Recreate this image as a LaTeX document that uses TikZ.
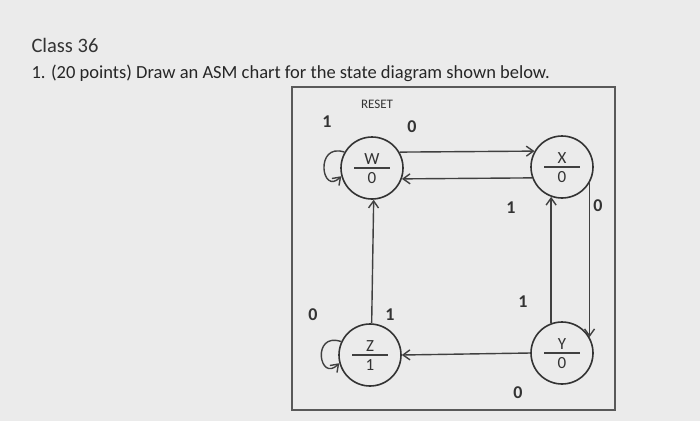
\documentclass[tikz,border=0pt]{standalone}
\usepackage{fontspec}
\setmainfont{Carlito}
\usetikzlibrary{arrows.meta}
\begin{document}
\begin{tikzpicture}[x=1pt,y=-1pt,
  st/.style={circle,draw=black!80,line width=1.6pt,minimum size=62pt,inner sep=0pt},
  ar/.style={draw=black!75,line width=1.4pt,-{Straight Barb[length=7pt,width=10pt]}},
  lb/.style={font=\fontsize{18}{18}\selectfont\bfseries,text=black!80}]
\fill[black!8] (0,0) rectangle (700,421);
\useasboundingbox (0,0) rectangle (700,421);
\node[anchor=west,font=\fontsize{20.5}{21}\selectfont,text=black!80] (t1) at (28,45) {Class 36};
\node[anchor=west,font=\fontsize{18.5}{19}\selectfont,text=black!85] (t2) at (28,73) {1. (20 points) Draw an ASM chart for the state diagram shown below.};
\draw[black!65,line width=1.2pt] (292,87) rectangle (615,410);
\node[st] (W) at (372,168) {};
\node[st] (X) at (562,167) {};
\node[st] (Y) at (562,353) {};
\node[st] (Z) at (370,355) {};
\foreach \n/\t/\b in {W/W/0,X/X/0,Y/Y/0,Z/Z/1}{
  \node[font=\fontsize{17}{17}\selectfont,text=black!80] (\n t) at ([yshift=9pt]\n) {\t};
  \node[font=\fontsize{17}{17}\selectfont,text=black!80] (\n b) at ([yshift=-10pt]\n) {\b};
  \draw[black!75,line width=1.3pt] ([xshift=-18pt]\n.center) -- ([xshift=18pt]\n.center);
}
\draw[ar] (W.30) -- (X.150);
\draw[ar] (X.-160) -- (W.-20);
\draw[ar] (X.-30) -- (Y.30);
\draw[ar] (Y.110) -- (X.-110);
\draw[ar] (Y.180) -- (Z.0);
\draw[ar] (Z.87) -- (W.-87);
\draw[ar] (W.150) .. controls +(-30,-10) and +(-20,20) .. (W.195);
\draw[ar] (Z.155) .. controls +(-30,-10) and +(-20,20) .. (Z.195);
\node[lb] (l1) at (327,122) {1};
\node[font=\fontsize{13}{13}\selectfont,text=black!80] (rs) at (377,104) {RESET};
\node[lb] (l2) at (412,127) {0};
\node[lb] (l3) at (511,208) {1};
\node[lb] (l4) at (598,206) {0};
\node[lb] (l5) at (523,302) {1};
\node[lb] (l6) at (313,315) {0};
\node[lb] (l7) at (390,315) {1};
\node[lb] (l8) at (518,393) {0};
\end{tikzpicture}
\end{document}
